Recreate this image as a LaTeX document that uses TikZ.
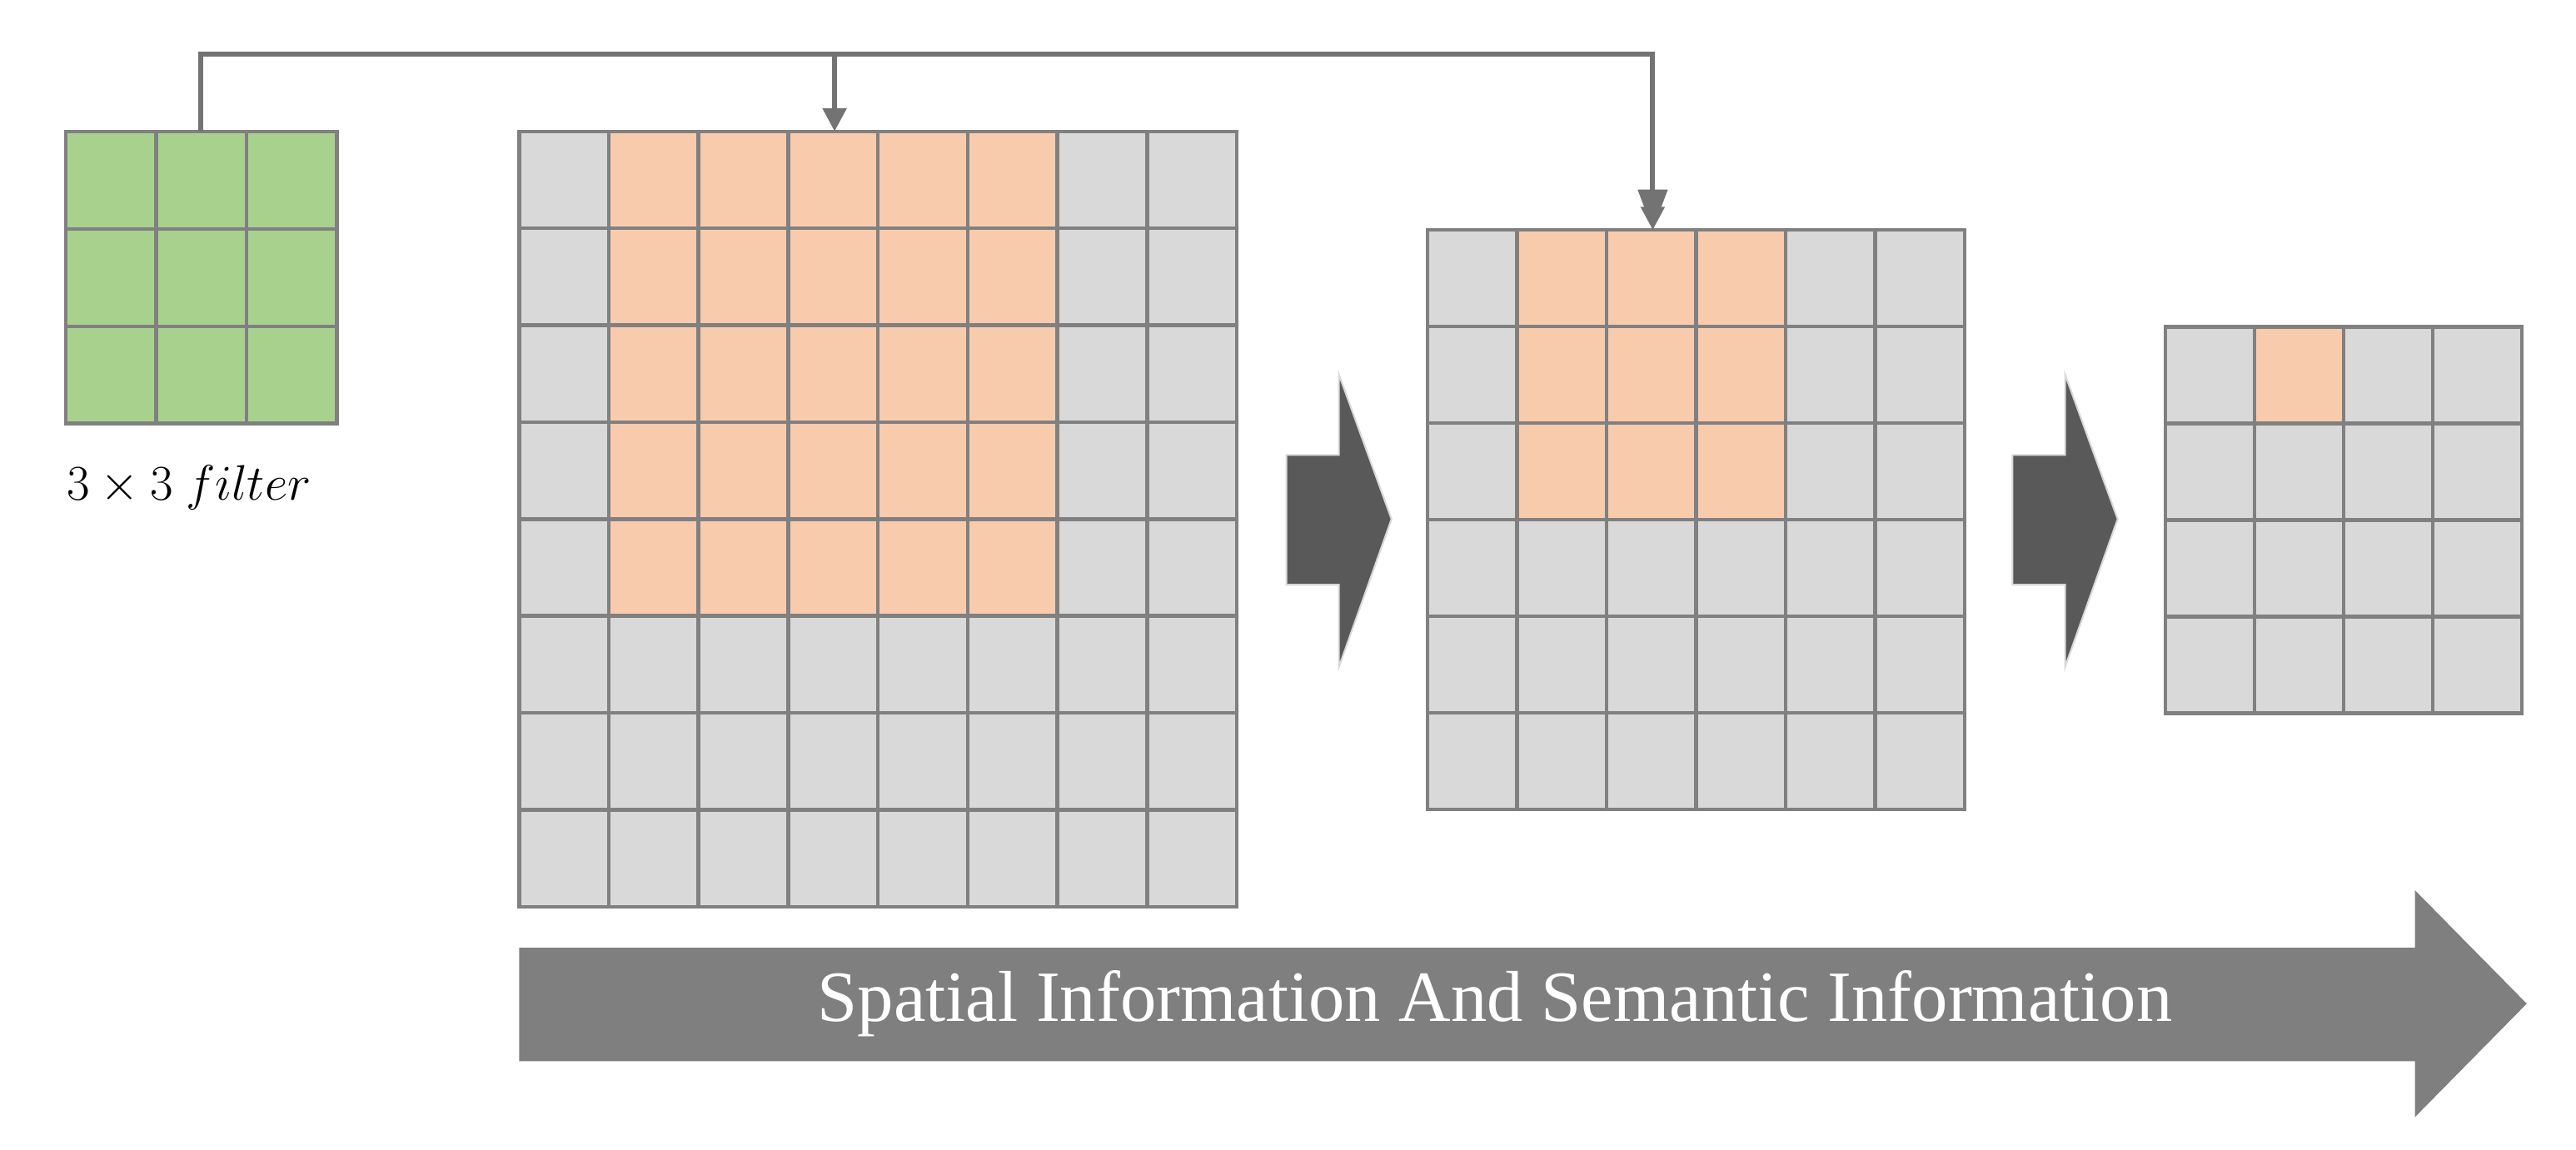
\documentclass[tikz,border=0pt]{standalone}
\usepackage{fontspec}
\setmainfont{Liberation Serif}
\usetikzlibrary{arrows.meta}
\definecolor{cellgray}{HTML}{D9D9D9}
\definecolor{cellorange}{HTML}{F8CBAD}
\definecolor{cellgreen}{HTML}{A9D18E}
\definecolor{linegray}{HTML}{808080}
\definecolor{darkarrow}{HTML}{595959}
\definecolor{bigarrow}{HTML}{7F7F7F}
\begin{document}
\begin{tikzpicture}[x=0.02cm,y=-0.02cm,
  cellline/.style={draw=linegray,line width=1.3pt},
  conn/.style={draw=linegray!90!black,line width=1.7pt},
  chev/.style={fill=darkarrow,draw=white!85!black,line width=0.6pt}]
\useasboundingbox (0,0) rectangle (1568,700);
% filter 3x3
\foreach \i in {0,1,2}{\foreach \j in {0,1,2}{
  \filldraw[cellline,fill=cellgreen] (40+\i*55,80+\j*59.3) rectangle ++(55,59.3);}}
\coordinate (f) at (122,80);
\node (flabel) at (115,297) {\fontsize{17}{20}\selectfont $3\times3\ filter$};
% grid 1: 8x8
\foreach \i in {0,...,7}{\foreach \j in {0,...,7}{
  \pgfmathsetmacro\o{(\i>=1 && \i<=5 && \j<=4) ? 1 : 0}
  \ifdim\o pt>0.5pt \def\fc{cellorange}\else\def\fc{cellgray}\fi
  \filldraw[cellline,fill=\fc] (316+\i*54.6,80+\j*59) rectangle ++(54.6,59);}}
\coordinate (g1) at (508,80);
% grid 2: 6x6
\foreach \i in {0,...,5}{\foreach \j in {0,...,5}{
  \pgfmathsetmacro\o{(\i>=1 && \i<=3 && \j<=2) ? 1 : 0}
  \ifdim\o pt>0.5pt \def\fc{cellorange}\else\def\fc{cellgray}\fi
  \filldraw[cellline,fill=\fc] (869+\i*54.5,140+\j*58.8) rectangle ++(54.5,58.8);}}
\coordinate (g2) at (1006,140);
% grid 3: 4x4
\foreach \i in {0,...,3}{\foreach \j in {0,...,3}{
  \pgfmathsetmacro\o{(\i==1 && \j==0) ? 1 : 0}
  \ifdim\o pt>0.5pt \def\fc{cellorange}\else\def\fc{cellgray}\fi
  \filldraw[cellline,fill=\fc] (1318+\i*54.25,199+\j*58.8) rectangle ++(54.25,58.8);}}
% connectors
\coordinate (top1) at (122,33);
\coordinate (top2) at (508,33);
\coordinate (top3) at (1006,33);
\draw[conn] (f) -- (top1) -- (top3) -- (g2) [-{Triangle[length=14pt,width=10pt]}];
\draw[conn,-{Triangle[length=8pt,width=8pt]}] (top3) -- (g2);
\draw[conn,-{Triangle[length=8pt,width=8pt]}] (top2) -- (g1);
% chevron arrows
\draw[chev] (783,277) -- (815,277) -- (815,228) -- (847,316) -- (815,406) -- (815,356) -- (783,356) -- cycle;
\draw[chev] (1225,277) -- (1257,277) -- (1257,228) -- (1289,316) -- (1257,406) -- (1257,356) -- (1225,356) -- cycle;
% big arrow
\fill[bigarrow] (316,577) -- (1470,577) -- (1470,542) -- (1538,611) -- (1470,680) -- (1470,646) -- (316,646) -- cycle;
\node[text=white,font=\fontsize{25}{30}\selectfont] (lbl) at (910,611) {Spatial Information And Semantic Information};
\end{tikzpicture}
\end{document}
